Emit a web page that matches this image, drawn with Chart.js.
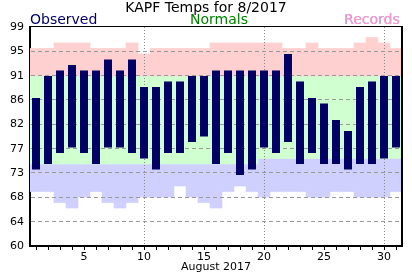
<!DOCTYPE html>
<html>
<head>
<meta charset="utf-8">
<title>KAPF Temps for 8/2017</title>
<script src="https://cdn.jsdelivr.net/npm/chart.js@4"></script>
<style>
  html, body { margin: 0; padding: 0; background: #fff; }
</style>
</head>
<body>
<canvas id="temps" width="412" height="276"></canvas>
<script>
// daily values for August 2017, deg F
const days = ['1', '2', '3', '4', '5', '6', '7', '8', '9', '10', '11', '12', '13', '14', '15', '16',
    '17', '18', '19', '20', '21', '22', '23', '24', '25', '26', '27', '28', '29', '30', '31'];
const obsHigh = [86, 90, 91, 92, 91, 91, 93, 91, 93, 88, 88, 89, 89, 90, 90, 91,
    91, 91, 91, 91, 91, 94, 89, 86, 85, 82, 80, 88, 89, 90, 90];
const obsLow = [74, 75, 77, 78, 77, 75, 78, 78, 77, 76, 74, 77, 77, 79, 80, 75,
    77, 73, 74, 78, 77, 79, 75, 77, 75, 75, 74, 75, 75, 76, 78];
const normHigh = [90, 90, 90, 90, 90, 90, 90, 90, 90, 90, 90, 90, 90, 90, 90, 90,
    90, 90, 90, 90, 90, 90, 90, 90, 90, 90, 90, 90, 90, 90, 90];
const normLow = [75, 75, 75, 75, 75, 75, 75, 75, 75, 75, 75, 75, 75, 75, 75, 75,
    75, 75, 75, 76, 76, 76, 76, 76, 76, 76, 76, 76, 76, 76, 76];
const recHigh = [95, 95, 96, 96, 96, 95, 95, 95, 96, 94, 95, 95, 95, 95, 95, 96,
    96, 96, 96, 96, 96, 95, 95, 96, 95, 95, 95, 96, 97, 96, 95];
const recLow = [70, 70, 68, 67, 69, 70, 68, 67, 68, 69, 69, 69, 71, 69, 68, 67,
    70, 71, 70, 69, 70, 70, 70, 69, 69, 70, 70, 69, 69, 69, 70];
const yTickLabels = ['60', '64', '68', '73', '77', '82', '86', '91', '95', '99'];
const yMin = 59.6;
const yMax = 99.4;

const FONT = '"DejaVu Sans", Verdana, sans-serif';

// each day covers the whole degree, so bars run from low-0.5 to high+0.5
function span(lo, hi) {
    return days.map((d, i) => [lo[i] - 0.5, hi[i] + 0.5]);
}

// grid goes over the shaded bands but under the observed bars
const gridOverBands = {
    id: 'gridOverBands',
    afterDatasetDraw(chart, args) {
        if (args.index === 1) {
            chart.scales.x.drawGrid(chart.chartArea);
            chart.scales.y.drawGrid(chart.chartArea);
        }
    }
};

const headerText = {
    id: 'headerText',
    afterDraw(chart) {
        const ctx = chart.ctx;
        const a = chart.chartArea;
        ctx.save();
        // top and right frame
        ctx.strokeStyle = '#000';
        ctx.lineWidth = 1;
        ctx.beginPath();
        ctx.moveTo(a.left, a.top - 0.5);
        ctx.lineTo(a.right + 1, a.top - 0.5);
        ctx.stroke();
        ctx.lineWidth = 2;
        ctx.beginPath();
        ctx.moveTo(a.right, a.top - 1);
        ctx.lineTo(a.right, a.bottom + 1);
        ctx.stroke();

        ctx.font = '14px ' + FONT;
        ctx.textBaseline = 'alphabetic';
        ctx.textAlign = 'center';
        ctx.fillStyle = '#000';
        ctx.fillText('KAPF Temps for 8/2017', chart.width / 2, 12);

        ctx.textAlign = 'left';
        ctx.fillStyle = '#000066';
        ctx.fillText('Observed', a.left, 24);

        ctx.textAlign = 'center';
        ctx.fillStyle = '#008000';
        ctx.fillText('Normals', (a.left + a.right) / 2 + 3, 24);

        ctx.textAlign = 'right';
        ctx.fillStyle = '#9999ff';
        ctx.fillText('Records', a.right - 2, 24);
        ctx.fillStyle = '#ff9cc8';
        ctx.fillText('Records', a.right - 2.5, 24);
        ctx.restore();
    }
};

const data = {
    labels: days,
    datasets: [{
            label: 'Observed',
            data: span(obsLow, obsHigh),
            backgroundColor: '#000066',
            barPercentage: 0.667,
            categoryPercentage: 1
        }, {
            label: 'Record highs',
            data: days.map((d, i) => [normHigh[i] + 0.5, recHigh[i] + 0.5]),
            backgroundColor: '#ffd0d0',
            barPercentage: 1,
            categoryPercentage: 1
        }, {
            label: 'Normals',
            data: span(normLow, normHigh),
            backgroundColor: '#d0ffd0',
            barPercentage: 1,
            categoryPercentage: 1
        }, {
            label: 'Record lows',
            data: days.map((d, i) => [recLow[i] - 0.5, normLow[i] - 0.5]),
            backgroundColor: '#d0d0ff',
            barPercentage: 1,
            categoryPercentage: 1
        }]
};

const config = {
    type: 'bar',
    data: data,
    plugins: [gridOverBands, headerText],
    options: {
        responsive: false,
        animation: false,
        devicePixelRatio: 1,
        datasets: {bar: {grouped: false, borderWidth: 0}},
        layout: {padding: {top: 27, right: 10, left: 0, bottom: 0}},
        plugins: {
            legend: {display: false},
            tooltip: {enabled: false},
            title: {display: false}
        },
        scales: {
            x: {
                afterFit: (scale) => { scale.height = 30; },
                grid: {
                    offset: false,
                    color: (c) => ((c.index + 1) % 10 === 0 ? '#888888' : 'rgba(0,0,0,0)'),
                    tickColor: '#000',
                    tickLength: 4,
                    tickBorderDash: []
                },
                border: {color: '#000', width: 2, dash: [1, 2]},
                ticks: {
                    autoSkip: false,
                    maxRotation: 0,
                    padding: 1,
                    color: '#000',
                    font: {family: FONT, size: 11},
                    callback: (v, i) => ((i + 1) % 5 === 0 ? days[i] : '')
                },
                title: {
                    display: true,
                    text: 'August 2017',
                    color: '#000',
                    font: {family: FONT, size: 11},
                    padding: {top: 0, bottom: 2}
                }
            },
            y: {
                min: yMin,
                max: yMax,
                afterFit: (scale) => { scale.width = 30; },
                afterBuildTicks: (scale) => {
                    scale.ticks = yTickLabels.map((t, i) => ({value: yMin + i * (yMax - yMin) / 9}));
                },
                grid: {
                    drawTicks: false,
                    color: (c) => (c.index === 0 || c.index === 9 ? 'rgba(0,0,0,0)' : '#999999')
                },
                border: {color: '#000', width: 2, dash: [4, 3]},
                ticks: {
                    padding: 6,
                    color: '#000',
                    font: {family: FONT, size: 11},
                    callback: (v, i) => yTickLabels[i]
                }
            }
        }
    }
};

new Chart(document.getElementById('temps').getContext('2d'), config);
</script>
</body>
</html>
